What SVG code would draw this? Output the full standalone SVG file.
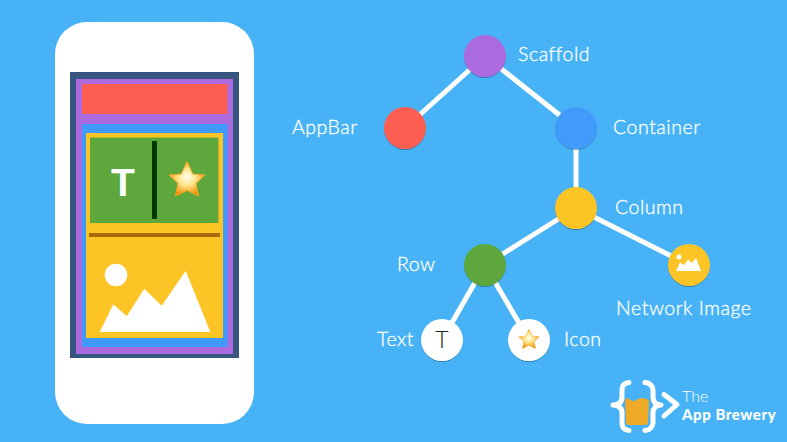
<svg xmlns="http://www.w3.org/2000/svg" width="787" height="442" viewBox="0 0 787 442">
<style>
.bg{fill:#47b3f6}
.lbl{font-family:"Lato","Open Sans",sans-serif;font-weight:300;font-size:19.5px;fill:#fff;stroke:#fff;stroke-width:.3px;letter-spacing:.55px}
.edge{stroke:#fff;stroke-width:5;fill:none}
.nd{filter:url(#sh)}
.br{fill:none;stroke:#fff;stroke-width:5;stroke-linecap:round;stroke-linejoin:round}
</style>
<defs>
<filter id="sh" x="-20%" y="-20%" width="140%" height="140%"><feDropShadow dx="0" dy="1" stdDeviation=".6" flood-color="#000" flood-opacity=".3"/></filter>
<radialGradient id="sg" cx=".5" cy=".45" r=".55">
<stop offset="0" stop-color="#fffdf0"/><stop offset=".45" stop-color="#ffe48a"/><stop offset="1" stop-color="#f08c00"/>
</radialGradient>
<polygon id="star" points="0,-18.500 5.800,-6 18,-5 9,3.400 11.500,16 0,10.400 -11.500,16 -9,3.400 -18,-5 -5.800,-6" fill="url(#sg)" stroke="#f6a623" stroke-width="1" stroke-linejoin="round"/>
</defs>
<rect class="bg" width="787" height="442"/>

<g id="phone">
<rect x="55" y="22" width="199" height="402" rx="32" fill="#fff"/>
<rect x="70" y="72" width="169" height="286" fill="#37567f"/>
<rect x="76" y="79" width="157" height="275" fill="#ab6bdf"/>
<rect x="82" y="84" width="145.500" height="30" fill="#ff5f52"/>
<rect x="82" y="124" width="145.500" height="223" fill="#3f9bfb"/>
<rect x="86" y="133" width="137" height="205" fill="#fdc425"/>
<rect x="90" y="137.500" width="128.500" height="85.500" fill="#5da73d"/>
<rect x="152" y="141" width="5" height="78" fill="#003a00"/>
<text x="123" y="196" text-anchor="middle" font-family="Liberation Sans, sans-serif" font-weight="700" font-size="39" fill="#fff">T</text>
<use href="#star" transform="translate(187 180)"/>
<rect x="89" y="233" width="131" height="4" fill="#a8690a"/>
<circle cx="116" cy="275" r="11.300" fill="#fff"/>
<polygon points="99.700,332 113.300,304.300 126.700,316.300 144.300,288.700 161.700,305.700 185.700,270.700 210.300,332" fill="#fff"/>
</g>

<g id="connectors">
<line class="edge" x1="485" y1="56" x2="405" y2="128"/>
<line class="edge" x1="485" y1="56" x2="576" y2="128"/>
<line class="edge" x1="576" y1="128" x2="576" y2="208"/>
<line class="edge" x1="576" y1="208" x2="485" y2="265"/>
<line class="edge" x1="576" y1="208" x2="689" y2="265"/>
<line class="edge" x1="485" y1="265" x2="442" y2="340"/>
<line class="edge" x1="485" y1="265" x2="529" y2="340"/>
</g>

<g id="scaffold"><circle class="nd" cx="485" cy="56" r="21" fill="#ab6bdf"/><text class="lbl" x="518" y="61">Scaffold</text></g>
<g id="appbar"><circle class="nd" cx="405" cy="128" r="21" fill="#ff5f52"/><text class="lbl" x="292" y="134">AppBar</text></g>
<g id="container"><circle class="nd" cx="576" cy="128" r="21" fill="#3f9bfb"/><text class="lbl" x="613" y="134">Container</text></g>
<g id="column"><circle class="nd" cx="576" cy="208" r="21" fill="#fdc425"/><text class="lbl" x="615" y="214">Column</text></g>
<g id="row"><circle class="nd" cx="485" cy="265" r="21" fill="#5da73d"/><text class="lbl" x="397" y="271">Row</text></g>
<g id="network-image"><circle class="nd" cx="689" cy="265" r="21" fill="#fdc425"/>
<circle cx="679" cy="257" r="2.500" fill="#fff"/><polygon points="676,271 680,262.500 684,265 688,259.500 692,263 696,258 701,271" fill="#fff"/>
<text class="lbl" x="616" y="315">Network Image</text></g>
<g id="text-node"><circle class="nd" cx="442" cy="340" r="21" fill="#fff"/><text x="442" y="348" text-anchor="middle" font-family="Lato, sans-serif" font-weight="300" font-size="23" fill="#222">T</text><text class="lbl" x="377" y="346">Text</text></g>
<g id="icon-node"><circle class="nd" cx="529" cy="340" r="21" fill="#fff"/><use href="#star" transform="translate(529 339.500) scale(.56)"/><text class="lbl" x="564" y="346">Icon</text></g>

<g id="logo">
<path class="br" d="M629 382.500Q622 383 622 390V397Q622 404.500 613 405Q622 405.500 622 413V423Q622 430 629 430.500"/>
<path class="br" d="M645 382.500Q652 383 653 390V397Q653 404.500 661 405Q653 405.500 653 413V423Q652 430 645 430.500"/>
<path class="br" d="M664 394.500L677 404.500L664 416"/>
<path d="M625 400Q626 397 629 399Q634 403 638 399Q642 397 646 399Q649 399 649 402L648 422Q648 425 645 425H629Q626 425 626 422Z" fill="#eea927"/>
<text x="682" y="402" font-family="Lato, sans-serif" font-weight="300" font-size="16" fill="#fff">The</text>
<text x="682" y="420" font-family="Lato, sans-serif" font-weight="900" font-size="15" letter-spacing=".55" fill="#fff">App Brewery</text>
</g>
</svg>
